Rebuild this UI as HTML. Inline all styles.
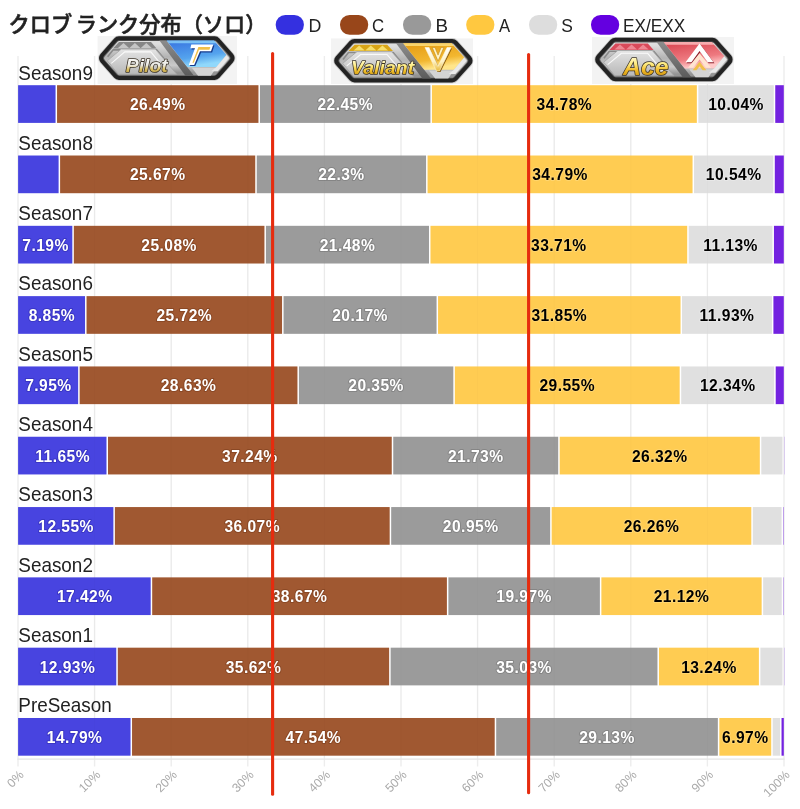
<!DOCTYPE html>
<html lang="ja"><head><meta charset="utf-8"><title>クロブ ランク分布（ソロ）</title>
<style>
html,body{margin:0;padding:0;background:#fff;}
body{width:800px;height:809px;overflow:hidden;position:relative;font-family:"Liberation Sans", "Noto Sans CJK JP", sans-serif;}
svg{position:absolute;left:0;top:0;display:block;}
text{font-family:"Liberation Sans", "Noto Sans CJK JP", sans-serif;}
.rl{font-size:19.5px;fill:#222;}
.lg{font-size:19px;fill:#222;}
.vl{font-size:15.6px;letter-spacing:0.45px;font-weight:700;text-anchor:middle;paint-order:stroke;stroke-width:2px;stroke-linejoin:round;}
.tk{font-size:12.3px;fill:#a9a9a9;text-anchor:end;}
.ti{font-size:21.2px;font-weight:500;fill:#222;stroke:#222;stroke-width:0.55px;word-spacing:-2.2px;}
.bt{font-weight:700;font-style:italic;paint-order:stroke;stroke:#3a3226;stroke-width:1.5px;stroke-linejoin:round;}
</style></head><body>
<svg width="800" height="809" viewBox="0 0 800 809">
<defs>
<linearGradient id="gSil" x1="0" y1="0" x2="0" y2="1"><stop offset="0" stop-color="#dedede"/><stop offset="0.45" stop-color="#b4b4b4"/><stop offset="0.75" stop-color="#cacaca"/><stop offset="1" stop-color="#949494"/></linearGradient>
<linearGradient id="gPlate" x1="0" y1="0" x2="0" y2="1"><stop offset="0" stop-color="#e4e4e4"/><stop offset="1" stop-color="#b8b8b8"/></linearGradient>
<linearGradient id="gBand" x1="0" y1="0" x2="0" y2="1"><stop offset="0" stop-color="#8c8c8c"/><stop offset="1" stop-color="#5c5c5c"/></linearGradient>
<linearGradient id="gT_pilot" x1="0" y1="0" x2="0" y2="1"><stop offset="0" stop-color="#ffffff"/><stop offset="0.5" stop-color="#ecebe6"/><stop offset="0.7" stop-color="#dcc062"/><stop offset="1" stop-color="#a98a30"/></linearGradient>
<linearGradient id="gT_valiant" x1="0" y1="0" x2="0" y2="1"><stop offset="0" stop-color="#fffdf0"/><stop offset="0.4" stop-color="#ffee88"/><stop offset="0.65" stop-color="#f2c02a"/><stop offset="1" stop-color="#b5800c"/></linearGradient>
<linearGradient id="gT_ace" x1="0" y1="0" x2="0" y2="1"><stop offset="0" stop-color="#fffdf0"/><stop offset="0.4" stop-color="#ffec80"/><stop offset="0.65" stop-color="#f0b824"/><stop offset="1" stop-color="#b07808"/></linearGradient>
<linearGradient id="gEmb" x1="0" y1="0" x2="0" y2="1"><stop offset="0" stop-color="#ffffff"/><stop offset="0.6" stop-color="#fff2c4"/><stop offset="1" stop-color="#e7b93a"/></linearGradient>
<linearGradient id="gP_pilot" x1="0" y1="0" x2="0.35" y2="1"><stop offset="0" stop-color="#3672e0"/><stop offset="0.7" stop-color="#55a4ee"/><stop offset="1" stop-color="#90d8fb"/></linearGradient>
<linearGradient id="gP_valiant" x1="0" y1="0" x2="0.35" y2="1"><stop offset="0" stop-color="#e49a12"/><stop offset="0.7" stop-color="#f2b730"/><stop offset="1" stop-color="#ffe58a"/></linearGradient>
<linearGradient id="gP_ace" x1="0" y1="0" x2="0.35" y2="1"><stop offset="0" stop-color="#d8414d"/><stop offset="0.7" stop-color="#ee7a80"/><stop offset="1" stop-color="#ffc9c9"/></linearGradient>
</defs>
<rect x="0" y="0" width="800" height="809" fill="#ffffff"/>
<line x1="18.00" y1="56" x2="18.00" y2="766.5" stroke="#ededed" stroke-width="1.4"/>
<line x1="94.60" y1="56" x2="94.60" y2="766.5" stroke="#ededed" stroke-width="1.4"/>
<line x1="171.20" y1="56" x2="171.20" y2="766.5" stroke="#ededed" stroke-width="1.4"/>
<line x1="247.80" y1="56" x2="247.80" y2="766.5" stroke="#ededed" stroke-width="1.4"/>
<line x1="324.40" y1="56" x2="324.40" y2="766.5" stroke="#ededed" stroke-width="1.4"/>
<line x1="401.00" y1="56" x2="401.00" y2="766.5" stroke="#ededed" stroke-width="1.4"/>
<line x1="477.60" y1="56" x2="477.60" y2="766.5" stroke="#ededed" stroke-width="1.4"/>
<line x1="554.20" y1="56" x2="554.20" y2="766.5" stroke="#ededed" stroke-width="1.4"/>
<line x1="630.80" y1="56" x2="630.80" y2="766.5" stroke="#ededed" stroke-width="1.4"/>
<line x1="707.40" y1="56" x2="707.40" y2="766.5" stroke="#ededed" stroke-width="1.4"/>
<line x1="784.00" y1="56" x2="784.00" y2="766.5" stroke="#ededed" stroke-width="1.4"/>
<line x1="17.40" y1="759.2" x2="784.60" y2="759.2" stroke="#e4e4e4" stroke-width="1.3"/>
<text class="ti" x="8.5" y="31.8">クロブ ランク分布（ソロ）</text>
<rect x="275.7" y="15" width="28.2" height="19.7" rx="9.6" ry="9.6" fill="#3430e0"/>
<text class="lg" transform="translate(308.50,31.9) scale(0.9375,1)" x="0" y="0">D</text>
<rect x="340.0" y="15" width="28.2" height="19.7" rx="9.6" ry="9.6" fill="#98461a"/>
<text class="lg" transform="translate(372.10,31.9) scale(0.8830,1)" x="0" y="0">C</text>
<rect x="403.0" y="15" width="28.2" height="19.7" rx="9.6" ry="9.6" fill="#999999"/>
<text class="lg" transform="translate(435.40,31.9) scale(0.9900,1)" x="0" y="0">B</text>
<rect x="466.2" y="15" width="28.2" height="19.7" rx="9.6" ry="9.6" fill="#ffc840"/>
<text class="lg" transform="translate(498.90,31.9) scale(0.8800,1)" x="0" y="0">A</text>
<rect x="529.0" y="15" width="28.2" height="19.7" rx="9.6" ry="9.6" fill="#dddddd"/>
<text class="lg" transform="translate(561.20,31.9) scale(0.9170,1)" x="0" y="0">S</text>
<rect x="591.0" y="15" width="28.2" height="19.7" rx="9.6" ry="9.6" fill="#6400e0"/>
<text class="lg" transform="translate(623.05,31.9) scale(0.9080,1)" x="0" y="0">EX/EXX</text>
<rect x="97.6" y="36.0" width="139.4" height="48.0" fill="#f3f3f3"/>
<g transform="translate(98.8,36.3) scale(1.000,1)">
<polygon points="6.47,21.80 20.13,6.30 115.87,6.30 129.53,21.80 115.87,37.30 20.13,37.30" fill="#8a8a8a" stroke="#8a8a8a" stroke-opacity="0.4" stroke-width="14.2" stroke-linejoin="round"/>
<polygon points="6.47,21.80 20.13,6.30 115.87,6.30 129.53,21.80 115.87,37.30 20.13,37.30" fill="#232323" stroke="#232323" stroke-width="12.6" stroke-linejoin="round"/>
<polygon points="7.80,21.80 20.59,7.30 115.41,7.30 128.20,21.80 115.41,36.30 20.59,36.30" fill="#5e5e5e" stroke="#5e5e5e" stroke-width="6.8" stroke-linejoin="round"/>
<polygon points="7.80,21.80 20.59,7.30 115.41,7.30 128.20,21.80 115.41,36.30 20.59,36.30" fill="url(#gSil)" stroke="url(#gSil)" stroke-width="5.2" stroke-linejoin="round"/>
<polyline points="8.8,20.5 14.2,13.6 58,13.6 66.5,24" fill="none" stroke="#8a8a8a" stroke-width="1.6" stroke-linejoin="round"/>
<polygon points="14.2,12.2 20.2,5.8 52.2,5.8 57.8,12.2" fill="#868686"/>
<polygon points="19.2,11.7 24.7,6.7 30.2,11.7" fill="#c6c6c6"/>
<polygon points="30.6,11.7 36.1,6.7 41.6,11.7" fill="#c6c6c6"/>
<polygon points="42.0,11.7 47.5,6.7 53.0,11.7" fill="#c6c6c6"/>
<polygon points="8.5,24.5 22.5,12.8 56.5,12.8 78,38 19.5,38" fill="url(#gPlate)" stroke="#a3a3a3" stroke-width="0.8" stroke-linejoin="round"/>
<polyline points="12.5,27 26,15.6 52,15.6 68,35" fill="none" stroke="#ffffff" stroke-width="1.1" stroke-opacity="0.85"/>
<polygon points="60.6,4.1 67.6,4.1 95.2,39.5 86.6,39.5" fill="url(#gBand)"/>
<polygon points="93,31.5 117.5,31.5 112,39.5 99.2,39.5" fill="#d4d4d4"/>
<polygon points="67.8,4.3 115.2,4.3 127.6,18.6 117.6,30.8 88.6,30.8" fill="url(#gP_pilot)"/>
<polygon points="67.8,4.3 115.2,4.3 117.6,7 70,7" fill="#90d8fb" fill-opacity="0.75"/>
<polygon points="127.6,18.6 130.2,21.8 119,35 112.5,35 117.6,30.8" fill="#e9e9e9"/>
<polygon points="92.5,8.2 114.5,8.2 112.2,15 101.2,15 95.4,28.6 90,28.6 96.2,12 91.6,12" fill="#143a8c" transform="translate(1.1,1.1)"/>
<polygon points="92.5,8.2 114.5,8.2 112.2,15 101.2,15 95.4,28.6 90,28.6 96.2,12 91.6,12" fill="#ffffff"/>
<polygon points="99.6,10.6 111.6,10.6 110.6,13.4 100.2,13.4 95,26.4 93.6,26.4" fill="#f0c04a"/>
<text class="bt" x="27.0" y="35.3" font-size="19.0" textLength="42.0" lengthAdjust="spacingAndGlyphs" fill="url(#gT_pilot)">Pilot</text>
</g>
<rect x="331.0" y="38.4" width="142.0" height="45.6" fill="#f3f3f3"/>
<g transform="translate(334.0,38.9) scale(1.020,1)">
<polygon points="6.47,21.80 20.13,6.30 115.87,6.30 129.53,21.80 115.87,37.30 20.13,37.30" fill="#8a8a8a" stroke="#8a8a8a" stroke-opacity="0.4" stroke-width="14.2" stroke-linejoin="round"/>
<polygon points="6.47,21.80 20.13,6.30 115.87,6.30 129.53,21.80 115.87,37.30 20.13,37.30" fill="#232323" stroke="#232323" stroke-width="12.6" stroke-linejoin="round"/>
<polygon points="7.80,21.80 20.59,7.30 115.41,7.30 128.20,21.80 115.41,36.30 20.59,36.30" fill="#5e5e5e" stroke="#5e5e5e" stroke-width="6.8" stroke-linejoin="round"/>
<polygon points="7.80,21.80 20.59,7.30 115.41,7.30 128.20,21.80 115.41,36.30 20.59,36.30" fill="url(#gSil)" stroke="url(#gSil)" stroke-width="5.2" stroke-linejoin="round"/>
<polyline points="8.8,20.5 14.2,13.6 58,13.6 66.5,24" fill="none" stroke="#8a8a8a" stroke-width="1.6" stroke-linejoin="round"/>
<polygon points="14.2,12.2 20.2,5.8 52.2,5.8 57.8,12.2" fill="#d9a516"/>
<polygon points="19.2,11.7 24.7,6.7 30.2,11.7" fill="#f6de6a"/>
<polygon points="30.6,11.7 36.1,6.7 41.6,11.7" fill="#f6de6a"/>
<polygon points="42.0,11.7 47.5,6.7 53.0,11.7" fill="#f6de6a"/>
<polygon points="8.5,24.5 22.5,12.8 56.5,12.8 78,38 19.5,38" fill="url(#gPlate)" stroke="#a3a3a3" stroke-width="0.8" stroke-linejoin="round"/>
<polyline points="12.5,27 26,15.6 52,15.6 68,35" fill="none" stroke="#ffffff" stroke-width="1.1" stroke-opacity="0.85"/>
<polygon points="60.6,4.1 67.6,4.1 95.2,39.5 86.6,39.5" fill="url(#gBand)"/>
<polygon points="93,31.5 117.5,31.5 112,39.5 99.2,39.5" fill="#d4d4d4"/>
<polygon points="67.8,4.3 115.2,4.3 127.6,18.6 117.6,30.8 88.6,30.8" fill="url(#gP_valiant)"/>
<polygon points="67.8,4.3 115.2,4.3 117.6,7 70,7" fill="#ffe58a" fill-opacity="0.75"/>
<polygon points="127.6,18.6 130.2,21.8 119,35 112.5,35 117.6,30.8" fill="#e9e9e9"/>
<polygon points="89.2,8.6 93.2,8.6 102,27.4 110.8,8.6 114.8,8.6 103.5,32 100.5,32" fill="#8a5a08" transform="translate(0.9,1)"/>
<polygon points="89.2,8.6 93.2,8.6 102,27.4 110.8,8.6 114.8,8.6 103.5,32 100.5,32" fill="url(#gEmb)" stroke="#fff6d6" stroke-width="0.6"/>
<polygon points="96.4,8.6 99,8.6 102,16.2 105,8.6 107.6,8.6 102,22.2" fill="#fff4c8" stroke="#b7800e" stroke-width="0.5"/>
<text class="bt" x="16.6" y="35.3" font-size="19.0" textLength="62.0" lengthAdjust="spacingAndGlyphs" fill="url(#gT_valiant)">Valiant</text>
</g>
<rect x="592.0" y="37.0" width="142.0" height="47.0" fill="#f3f3f3"/>
<g transform="translate(595.0,37.7) scale(1.013,1)">
<polygon points="6.47,21.80 20.13,6.30 115.87,6.30 129.53,21.80 115.87,37.30 20.13,37.30" fill="#8a8a8a" stroke="#8a8a8a" stroke-opacity="0.4" stroke-width="14.2" stroke-linejoin="round"/>
<polygon points="6.47,21.80 20.13,6.30 115.87,6.30 129.53,21.80 115.87,37.30 20.13,37.30" fill="#232323" stroke="#232323" stroke-width="12.6" stroke-linejoin="round"/>
<polygon points="7.80,21.80 20.59,7.30 115.41,7.30 128.20,21.80 115.41,36.30 20.59,36.30" fill="#5e5e5e" stroke="#5e5e5e" stroke-width="6.8" stroke-linejoin="round"/>
<polygon points="7.80,21.80 20.59,7.30 115.41,7.30 128.20,21.80 115.41,36.30 20.59,36.30" fill="url(#gSil)" stroke="url(#gSil)" stroke-width="5.2" stroke-linejoin="round"/>
<polyline points="8.8,20.5 14.2,13.6 58,13.6 66.5,24" fill="none" stroke="#8a8a8a" stroke-width="1.6" stroke-linejoin="round"/>
<polygon points="14.2,12.2 20.2,5.8 52.2,5.8 57.8,12.2" fill="#d94a5a"/>
<polygon points="19.2,11.7 24.7,6.7 30.2,11.7" fill="#ee8792"/>
<polygon points="30.6,11.7 36.1,6.7 41.6,11.7" fill="#ee8792"/>
<polygon points="42.0,11.7 47.5,6.7 53.0,11.7" fill="#ee8792"/>
<polygon points="8.5,24.5 22.5,12.8 56.5,12.8 78,38 19.5,38" fill="url(#gPlate)" stroke="#a3a3a3" stroke-width="0.8" stroke-linejoin="round"/>
<polyline points="12.5,27 26,15.6 52,15.6 68,35" fill="none" stroke="#ffffff" stroke-width="1.1" stroke-opacity="0.85"/>
<polygon points="60.6,4.1 67.6,4.1 95.2,39.5 86.6,39.5" fill="url(#gBand)"/>
<polygon points="93,31.5 117.5,31.5 112,39.5 99.2,39.5" fill="#d4d4d4"/>
<polygon points="67.8,4.3 115.2,4.3 127.6,18.6 117.6,30.8 88.6,30.8" fill="url(#gP_ace)"/>
<polygon points="67.8,4.3 115.2,4.3 117.6,7 70,7" fill="#ffc9c9" fill-opacity="0.75"/>
<polygon points="127.6,18.6 130.2,21.8 119,35 112.5,35 117.6,30.8" fill="#e9e9e9"/>
<polygon points="103.2,5.8 117,24.6 111.2,24.6 103.2,13.4 95.2,24.6 89.4,24.6" fill="#8e1f2a" transform="translate(0.9,1)"/>
<polygon points="103.2,5.8 117,24.6 111.2,24.6 103.2,13.4 95.2,24.6 89.4,24.6" fill="#ffffff"/>
<polygon points="103.2,15.6 114.6,30 109.6,30 103.2,21.8 96.8,30 91.8,30" fill="#ffe4d0"/>
<polygon points="103.2,24 110,32.6 106.2,32.6 103.2,28.6 100.2,32.6 96.4,32.6" fill="#f0c04a"/>
<text class="bt" x="27.6" y="37.4" font-size="24.5" textLength="45.0" lengthAdjust="spacingAndGlyphs" fill="url(#gT_ace)">Ace</text>
</g>
<text class="rl" transform="translate(18.3,79.50) scale(0.97,1)" x="0" y="0">Season9</text>
<rect x="18.10" y="85.20" width="37.45" height="37.70" fill="#4844e0"/>
<rect x="57.05" y="85.20" width="201.41" height="37.70" fill="#a05831"/>
<rect x="259.96" y="85.20" width="170.47" height="37.70" fill="#9b9b9b"/>
<rect x="431.93" y="85.20" width="264.91" height="37.70" fill="#ffcc52"/>
<rect x="698.35" y="85.20" width="75.41" height="37.70" fill="#e0e0e0"/>
<rect x="775.25" y="85.20" width="8.55" height="37.70" fill="#7322e0"/>
<text class="vl" x="157.76" y="110.05" fill="#ffffff" stroke="#8a4825">26.49%</text>
<text class="vl" x="345.20" y="110.05" fill="#ffffff" stroke="#858585">22.45%</text>
<text class="vl" x="564.39" y="110.05" fill="#000000" stroke="#ffd670">34.78%</text>
<text class="vl" x="736.05" y="110.05" fill="#000000" stroke="#e8e8e8">10.04%</text>
<text class="rl" transform="translate(18.3,149.81) scale(0.97,1)" x="0" y="0">Season8</text>
<rect x="18.10" y="155.51" width="40.51" height="37.70" fill="#4844e0"/>
<rect x="60.11" y="155.51" width="195.13" height="37.70" fill="#a05831"/>
<rect x="256.75" y="155.51" width="169.32" height="37.70" fill="#9b9b9b"/>
<rect x="427.56" y="155.51" width="264.99" height="37.70" fill="#ffcc52"/>
<rect x="694.06" y="155.51" width="79.24" height="37.70" fill="#e0e0e0"/>
<rect x="774.79" y="155.51" width="9.01" height="37.70" fill="#7322e0"/>
<text class="vl" x="157.68" y="180.36" fill="#ffffff" stroke="#8a4825">25.67%</text>
<text class="vl" x="341.41" y="180.36" fill="#ffffff" stroke="#858585">22.3%</text>
<text class="vl" x="560.06" y="180.36" fill="#000000" stroke="#ffd670">34.79%</text>
<text class="vl" x="733.67" y="180.36" fill="#000000" stroke="#e8e8e8">10.54%</text>
<text class="rl" transform="translate(18.3,220.12) scale(0.97,1)" x="0" y="0">Season7</text>
<rect x="18.10" y="225.82" width="54.23" height="37.70" fill="#4844e0"/>
<rect x="73.83" y="225.82" width="190.61" height="37.70" fill="#a05831"/>
<rect x="265.94" y="225.82" width="163.04" height="37.70" fill="#9b9b9b"/>
<rect x="430.48" y="225.82" width="256.72" height="37.70" fill="#ffcc52"/>
<rect x="688.69" y="225.82" width="83.76" height="37.70" fill="#e0e0e0"/>
<rect x="773.95" y="225.82" width="9.85" height="37.70" fill="#7322e0"/>
<text class="vl" x="45.54" y="250.67" fill="#ffffff" stroke="#3a36c4">7.19%</text>
<text class="vl" x="169.13" y="250.67" fill="#ffffff" stroke="#8a4825">25.08%</text>
<text class="vl" x="347.46" y="250.67" fill="#ffffff" stroke="#858585">21.48%</text>
<text class="vl" x="558.83" y="250.67" fill="#000000" stroke="#ffd670">33.71%</text>
<text class="vl" x="730.57" y="250.67" fill="#000000" stroke="#e8e8e8">11.13%</text>
<text class="rl" transform="translate(18.3,290.43) scale(0.97,1)" x="0" y="0">Season6</text>
<rect x="18.10" y="296.13" width="66.94" height="37.70" fill="#4844e0"/>
<rect x="86.54" y="296.13" width="195.52" height="37.70" fill="#a05831"/>
<rect x="283.56" y="296.13" width="153.00" height="37.70" fill="#9b9b9b"/>
<rect x="438.06" y="296.13" width="242.47" height="37.70" fill="#ffcc52"/>
<rect x="682.03" y="296.13" width="89.88" height="37.70" fill="#e0e0e0"/>
<rect x="773.41" y="296.13" width="10.39" height="37.70" fill="#7322e0"/>
<text class="vl" x="51.90" y="320.98" fill="#ffffff" stroke="#3a36c4">8.85%</text>
<text class="vl" x="184.30" y="320.98" fill="#ffffff" stroke="#8a4825">25.72%</text>
<text class="vl" x="360.06" y="320.98" fill="#ffffff" stroke="#858585">20.17%</text>
<text class="vl" x="559.29" y="320.98" fill="#000000" stroke="#ffd670">31.85%</text>
<text class="vl" x="726.97" y="320.98" fill="#000000" stroke="#e8e8e8">11.93%</text>
<text class="rl" transform="translate(18.3,360.74) scale(0.97,1)" x="0" y="0">Season5</text>
<rect x="18.10" y="366.44" width="60.05" height="37.70" fill="#4844e0"/>
<rect x="79.65" y="366.44" width="217.81" height="37.70" fill="#a05831"/>
<rect x="298.95" y="366.44" width="154.38" height="37.70" fill="#9b9b9b"/>
<rect x="454.83" y="366.44" width="224.85" height="37.70" fill="#ffcc52"/>
<rect x="681.19" y="366.44" width="93.02" height="37.70" fill="#e0e0e0"/>
<rect x="775.71" y="366.44" width="8.09" height="37.70" fill="#7322e0"/>
<text class="vl" x="48.45" y="391.29" fill="#ffffff" stroke="#3a36c4">7.95%</text>
<text class="vl" x="188.55" y="391.29" fill="#ffffff" stroke="#8a4825">28.63%</text>
<text class="vl" x="376.14" y="391.29" fill="#ffffff" stroke="#858585">20.35%</text>
<text class="vl" x="567.26" y="391.29" fill="#000000" stroke="#ffd670">29.55%</text>
<text class="vl" x="727.70" y="391.29" fill="#000000" stroke="#e8e8e8">12.34%</text>
<text class="rl" transform="translate(18.3,431.05) scale(0.97,1)" x="0" y="0">Season4</text>
<rect x="18.10" y="436.75" width="88.39" height="37.70" fill="#4844e0"/>
<rect x="107.99" y="436.75" width="283.76" height="37.70" fill="#a05831"/>
<rect x="393.25" y="436.75" width="164.95" height="37.70" fill="#9b9b9b"/>
<rect x="559.70" y="436.75" width="200.11" height="37.70" fill="#ffcc52"/>
<rect x="761.31" y="436.75" width="21.17" height="37.70" fill="#e0e0e0"/>
<rect x="783.98" y="436.75" width="0.35" height="37.70" fill="#7322e0" fill-opacity="0.55"/>
<text class="vl" x="62.62" y="461.60" fill="#ffffff" stroke="#3a36c4">11.65%</text>
<text class="vl" x="249.87" y="461.60" fill="#ffffff" stroke="#8a4825">37.24%</text>
<text class="vl" x="475.72" y="461.60" fill="#ffffff" stroke="#858585">21.73%</text>
<text class="vl" x="659.75" y="461.60" fill="#000000" stroke="#ffd670">26.32%</text>
<text class="rl" transform="translate(18.3,501.36) scale(0.97,1)" x="0" y="0">Season3</text>
<rect x="18.10" y="507.06" width="95.28" height="37.70" fill="#4844e0"/>
<rect x="114.88" y="507.06" width="274.80" height="37.70" fill="#a05831"/>
<rect x="391.18" y="507.06" width="158.98" height="37.70" fill="#9b9b9b"/>
<rect x="551.66" y="507.06" width="199.65" height="37.70" fill="#ffcc52"/>
<rect x="752.81" y="507.06" width="28.76" height="37.70" fill="#e0e0e0"/>
<rect x="783.06" y="507.06" width="0.74" height="37.70" fill="#7322e0" fill-opacity="0.55"/>
<text class="vl" x="66.07" y="531.91" fill="#ffffff" stroke="#3a36c4">12.55%</text>
<text class="vl" x="252.28" y="531.91" fill="#ffffff" stroke="#8a4825">36.07%</text>
<text class="vl" x="470.67" y="531.91" fill="#ffffff" stroke="#858585">20.95%</text>
<text class="vl" x="651.48" y="531.91" fill="#000000" stroke="#ffd670">26.26%</text>
<text class="rl" transform="translate(18.3,571.67) scale(0.97,1)" x="0" y="0">Season2</text>
<rect x="18.10" y="577.37" width="132.59" height="37.70" fill="#4844e0"/>
<rect x="152.19" y="577.37" width="294.71" height="37.70" fill="#a05831"/>
<rect x="448.40" y="577.37" width="151.47" height="37.70" fill="#9b9b9b"/>
<rect x="601.37" y="577.37" width="160.28" height="37.70" fill="#ffcc52"/>
<rect x="763.15" y="577.37" width="18.57" height="37.70" fill="#e0e0e0"/>
<rect x="783.22" y="577.37" width="0.58" height="37.70" fill="#7322e0" fill-opacity="0.55"/>
<text class="vl" x="84.72" y="602.22" fill="#ffffff" stroke="#3a36c4">17.42%</text>
<text class="vl" x="299.54" y="602.22" fill="#ffffff" stroke="#8a4825">38.67%</text>
<text class="vl" x="524.13" y="602.22" fill="#ffffff" stroke="#858585">19.97%</text>
<text class="vl" x="681.51" y="602.22" fill="#000000" stroke="#ffd670">21.12%</text>
<text class="rl" transform="translate(18.3,641.98) scale(0.97,1)" x="0" y="0">Season1</text>
<rect x="18.10" y="647.68" width="98.19" height="37.70" fill="#4844e0"/>
<rect x="117.79" y="647.68" width="271.35" height="37.70" fill="#a05831"/>
<rect x="390.64" y="647.68" width="266.83" height="37.70" fill="#9b9b9b"/>
<rect x="658.97" y="647.68" width="99.92" height="37.70" fill="#ffcc52"/>
<rect x="760.39" y="647.68" width="22.09" height="37.70" fill="#e0e0e0"/>
<rect x="783.98" y="647.68" width="0.35" height="37.70" fill="#7322e0" fill-opacity="0.55"/>
<text class="vl" x="67.52" y="672.53" fill="#ffffff" stroke="#3a36c4">12.93%</text>
<text class="vl" x="253.47" y="672.53" fill="#ffffff" stroke="#8a4825">35.62%</text>
<text class="vl" x="524.06" y="672.53" fill="#ffffff" stroke="#858585">35.03%</text>
<text class="vl" x="708.93" y="672.53" fill="#000000" stroke="#ffd670">13.24%</text>
<text class="rl" transform="translate(18.3,712.29) scale(0.97,1)" x="0" y="0">PreSeason</text>
<rect x="18.10" y="717.99" width="112.44" height="37.70" fill="#4844e0"/>
<rect x="132.04" y="717.99" width="362.66" height="37.70" fill="#a05831"/>
<rect x="496.20" y="717.99" width="221.64" height="37.70" fill="#9b9b9b"/>
<rect x="719.33" y="717.99" width="51.89" height="37.70" fill="#ffcc52"/>
<rect x="772.72" y="717.99" width="7.31" height="37.70" fill="#e0e0e0"/>
<rect x="781.53" y="717.99" width="2.27" height="37.70" fill="#7322e0"/>
<text class="vl" x="74.65" y="742.84" fill="#ffffff" stroke="#3a36c4">14.79%</text>
<text class="vl" x="313.37" y="742.84" fill="#ffffff" stroke="#8a4825">47.54%</text>
<text class="vl" x="607.02" y="742.84" fill="#ffffff" stroke="#858585">29.13%</text>
<text class="vl" x="745.28" y="742.84" fill="#000000" stroke="#ffd670">6.97%</text>
<line x1="94.60" y1="85" x2="94.60" y2="757" stroke="#000000" stroke-opacity="0.012" stroke-width="1.2"/>
<line x1="171.20" y1="85" x2="171.20" y2="757" stroke="#000000" stroke-opacity="0.012" stroke-width="1.2"/>
<line x1="247.80" y1="85" x2="247.80" y2="757" stroke="#000000" stroke-opacity="0.012" stroke-width="1.2"/>
<line x1="324.40" y1="85" x2="324.40" y2="757" stroke="#000000" stroke-opacity="0.012" stroke-width="1.2"/>
<line x1="401.00" y1="85" x2="401.00" y2="757" stroke="#000000" stroke-opacity="0.012" stroke-width="1.2"/>
<line x1="477.60" y1="85" x2="477.60" y2="757" stroke="#000000" stroke-opacity="0.012" stroke-width="1.2"/>
<line x1="554.20" y1="85" x2="554.20" y2="757" stroke="#000000" stroke-opacity="0.012" stroke-width="1.2"/>
<line x1="630.80" y1="85" x2="630.80" y2="757" stroke="#000000" stroke-opacity="0.012" stroke-width="1.2"/>
<line x1="707.40" y1="85" x2="707.40" y2="757" stroke="#000000" stroke-opacity="0.012" stroke-width="1.2"/>
<text class="tk" transform="translate(24.60,775.6) rotate(-45)" x="0" y="0">0%</text>
<text class="tk" transform="translate(101.20,775.6) rotate(-45)" x="0" y="0">10%</text>
<text class="tk" transform="translate(177.80,775.6) rotate(-45)" x="0" y="0">20%</text>
<text class="tk" transform="translate(254.40,775.6) rotate(-45)" x="0" y="0">30%</text>
<text class="tk" transform="translate(331.00,775.6) rotate(-45)" x="0" y="0">40%</text>
<text class="tk" transform="translate(407.60,775.6) rotate(-45)" x="0" y="0">50%</text>
<text class="tk" transform="translate(484.20,775.6) rotate(-45)" x="0" y="0">60%</text>
<text class="tk" transform="translate(560.80,775.6) rotate(-45)" x="0" y="0">70%</text>
<text class="tk" transform="translate(637.40,775.6) rotate(-45)" x="0" y="0">80%</text>
<text class="tk" transform="translate(714.00,775.6) rotate(-45)" x="0" y="0">90%</text>
<text class="tk" transform="translate(790.60,775.6) rotate(-45)" x="0" y="0">100%</text>
<line x1="272.6" y1="53.5" x2="272.6" y2="794.3" stroke="#e62c0e" stroke-width="3.1" stroke-linecap="round"/>
<line x1="528.6" y1="54.5" x2="528.6" y2="792.8" stroke="#e62c0e" stroke-width="3.1" stroke-linecap="round"/>
</svg>
</body></html>
